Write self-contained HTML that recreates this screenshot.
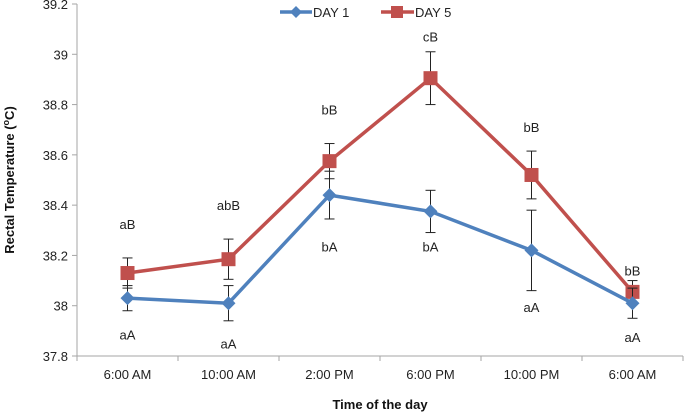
<!DOCTYPE html>
<html><head><meta charset="utf-8"><style>
body{margin:0;background:#fff;width:685px;height:413px;overflow:hidden;font-family:"Liberation Sans",sans-serif}
svg text{font-family:"Liberation Sans",sans-serif}
</style></head><body>
<svg id="chart" width="685" height="413"></svg>
<script>
const categories=["6:00 AM","10:00 AM","2:00 PM","6:00 PM","10:00 PM","6:00 AM"];
const day1=[38.03,38.01,38.44,38.375,38.22,38.01];
const day1Err=[0.05,0.07,0.095,0.084,0.16,0.06];
const day5=[38.13,38.185,38.575,38.905,38.52,38.055];
const day5Err=[0.06,0.08,0.07,0.105,0.095,0.045];
const day1Labels=["aA","aA","bA","bA","aA","aA"];
const day1LabelVals=[37.885,37.85,38.235,38.235,37.995,37.875];
const day5Labels=["aB","abB","bB","cB","bB","bB"];
const day5LabelVals=[38.325,38.4,38.78,39.07,38.71,38.14];
const yTicks=[37.8,38,38.2,38.4,38.6,38.8,39,39.2];
const yTickLabels=["37.8","38","38.2","38.4","38.6","38.8","39","39.2"];

const NS="http://www.w3.org/2000/svg";
const svg=document.getElementById('chart');
const X0=77,X1=683,Y0=356,Y1=4,YMIN=37.8,YMAX=39.2;
const bw=(X1-X0)/categories.length;
const xs=i=>X0+bw*(i+0.5);
const ys=v=>Y0-(v-YMIN)/(YMAX-YMIN)*(Y0-Y1);
function el(t,a,p){const e=document.createElementNS(NS,t);for(const k in a)e.setAttribute(k,a[k]);(p||svg).appendChild(e);return e;}

const ax=el('g',{});


el('line',{x1:X0,y1:Y1,x2:X0,y2:Y0,stroke:'#a6a6a6','stroke-width':1},ax);
el('line',{x1:X0,y1:Y0,x2:X1,y2:Y0,stroke:'#a6a6a6','stroke-width':1},ax);
yTicks.forEach((v,i)=>{
  el('line',{x1:X0-5,y1:ys(v),x2:X0,y2:ys(v),stroke:'#a6a6a6'},ax);
  const t=el('text',{x:X0-9,y:ys(v)+5,'text-anchor':'end','font-size':13,fill:'#222'},ax);
  t.textContent=yTickLabels[i];
  
  
});
for(let k=0;k<=categories.length;k++){
  el('line',{x1:X0+bw*k,y1:Y0,x2:X0+bw*k,y2:Y0+5,stroke:'#a6a6a6'},ax);
}
categories.forEach((c,i)=>{
  const t=el('text',{x:xs(i),y:Y0+23,'text-anchor':'middle','font-size':13,fill:'#222'},ax);
  t.textContent=c;
  
  
});
const xt=el('text',{x:380,y:409,'text-anchor':'middle','font-size':13,'font-weight':'bold',fill:'#111'});
xt.textContent='Time of the day';


const yt=el('text',{x:0,y:0,'text-anchor':'middle','font-size':13,'font-weight':'bold',fill:'#111',transform:'translate(14,180) rotate(-90)'});
yt.innerHTML='Rectal Temperature (<tspan font-size="9" dy="-5">o</tspan><tspan dy="5">C)</tspan>';



function series(vals,errs,color,marker,name){
  const g=el('g',{});
  
  
  vals.forEach((v,i)=>{
    const x=xs(i);
    el('line',{x1:x,y1:ys(v+errs[i]),x2:x,y2:ys(v-errs[i]),stroke:'#222','stroke-width':1},g);
    el('line',{x1:x-5,y1:ys(v+errs[i]),x2:x+5,y2:ys(v+errs[i]),stroke:'#222'},g);
    el('line',{x1:x-5,y1:ys(v-errs[i]),x2:x+5,y2:ys(v-errs[i]),stroke:'#222'},g);
  });
  el('polyline',{points:vals.map((v,i)=>xs(i)+','+ys(v)).join(' '),fill:'none',stroke:color,'stroke-width':3.5},g);
  vals.forEach((v,i)=>{
    const x=xs(i),y=ys(v);let m;
    if(marker==='d')m=el('polygon',{points:`${x},${y-7} ${x+7},${y} ${x},${y+7} ${x-7},${y}`,fill:color},g);
    else m=el('rect',{x:x-7,y:y-7,width:14,height:14,fill:color},g);
    
    
  });
}
series(day5,day5Err,'#c0504d','s','day5-series');
series(day1,day1Err,'#4f81bd','d','day1-series');

function labels(arr,vals){
  arr.forEach((s,i)=>{
    const t=el('text',{x:xs(i),y:ys(vals[i])+5,'text-anchor':'middle','font-size':13,fill:'#222'});
    t.textContent=s;
    
    
  });
}
labels(day1Labels,day1LabelVals);
labels(day5Labels,day5LabelVals);

const lg=el('g',{});


el('line',{x1:280,y1:12,x2:312,y2:12,stroke:'#4f81bd','stroke-width':3.5},lg);
el('polygon',{points:'296,6 302,12 296,18 290,12',fill:'#4f81bd'},lg);
let t1=el('text',{x:313,y:17,'font-size':13,fill:'#222'},lg);t1.textContent='DAY 1';
el('line',{x1:381,y1:12,x2:414,y2:12,stroke:'#c0504d','stroke-width':3.5},lg);
el('rect',{x:391,y:6,width:12,height:12,fill:'#c0504d'},lg);
let t2=el('text',{x:415,y:17,'font-size':13,fill:'#222'},lg);t2.textContent='DAY 5';
</script>
</body></html>
